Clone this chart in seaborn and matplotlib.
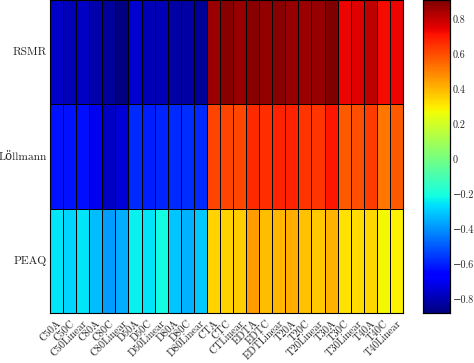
import numpy as np
import pandas as pd
import matplotlib
matplotlib.use("Agg")
import matplotlib.pyplot as plt
import seaborn as sns
from matplotlib.ticker import FuncFormatter, FixedLocator

columns = ["C50A", "C50C", "C50Linear", "C80A", "C80C", "C80Linear",
           "D50A", "D50C", "D50Linear", "D80A", "D80C", "D80Linear",
           "CTA", "CTC", "CTLinear", "EDTA", "EDTC", "EDTLinear",
           "T20A", "T20C", "T20Linear", "T30A", "T30C", "T30Linear",
           "T40A", "T40C", "T40Linear"]
rows = ["RSMR", "Löllmann", "PEAQ"]

rsmr = [-0.76, -0.79, -0.77, -0.80, -0.83, -0.876, -0.75, -0.79, -0.79, -0.82, -0.82, -0.84,
        0.86, 0.89, 0.87, 0.89, 0.88, 0.89, 0.87, 0.86, 0.87, 0.908, 0.74, 0.76, 0.81, 0.72, 0.74]
lollmann = [-0.62, -0.62, -0.63, -0.70, -0.77, -0.74, -0.58, -0.60, -0.59, -0.58, -0.57, -0.58,
            0.62, 0.62, 0.61, 0.67, 0.66, 0.68, 0.68, 0.65, 0.65, 0.70, 0.58, 0.60, 0.63, 0.52, 0.58]
peaq = [-0.25, -0.28, -0.25, -0.32, -0.38, -0.35, -0.23, -0.25, -0.21, -0.31, -0.34, -0.30,
        0.35, 0.35, 0.36, 0.45, 0.39, 0.40, 0.42, 0.38, 0.37, 0.41, 0.32, 0.33, 0.34, 0.28, 0.29]
cbar_ticks = [-0.8, -0.6, -0.4, -0.2, 0, 0.2, 0.4, 0.6, 0.8]

df = pd.DataFrame([rsmr, lollmann, peaq], index=rows, columns=columns)

sns.set_style("white")
plt.rcParams['font.family'] = ['cmr10', 'DejaVu Serif']
plt.rcParams['axes.formatter.use_mathtext'] = True
plt.rcParams['axes.unicode_minus'] = False

fig = plt.figure(figsize=(4.74, 3.63), dpi=100)
ax = fig.add_axes([50/474, 50/363, 353/474, 313/363])
cax = fig.add_axes([423/474, 50/363, 27/474, 313/363])

sns.heatmap(df, ax=ax, cbar_ax=cax, cmap="jet", vmin=min(rsmr), vmax=max(rsmr),
            linewidths=0.6, linecolor="black", xticklabels=True, yticklabels=True)

for s in ax.spines.values():
    s.set_visible(True)
    s.set_color("black")
    s.set_linewidth(0.8)

ax.set_xlabel("")
ax.set_ylabel("")
ax.set_xticklabels(columns, rotation=45, ha="right", rotation_mode="anchor", fontsize=7.5)
ax.set_yticklabels(rows, rotation=0, fontsize=8.3)
ax.tick_params(axis="both", direction="in", length=3, width=0.6, color="black",
               top=True, right=True, bottom=True, left=True, pad=2)
ax.tick_params(axis="x", pad=4)

cax.yaxis.set_major_locator(FixedLocator(cbar_ticks))
cax.yaxis.set_major_formatter(FuncFormatter(lambda v, p: ("%g" % round(v, 1)).replace("-", "\u2212")))
cax.tick_params(axis="y", direction="in", length=3, width=0.6, labelsize=7.3, right=True, left=True, pad=2)
for s in cax.spines.values():
    s.set_visible(True)
    s.set_color("black")
    s.set_linewidth(0.8)

fig.savefig("out.png", dpi=100)
